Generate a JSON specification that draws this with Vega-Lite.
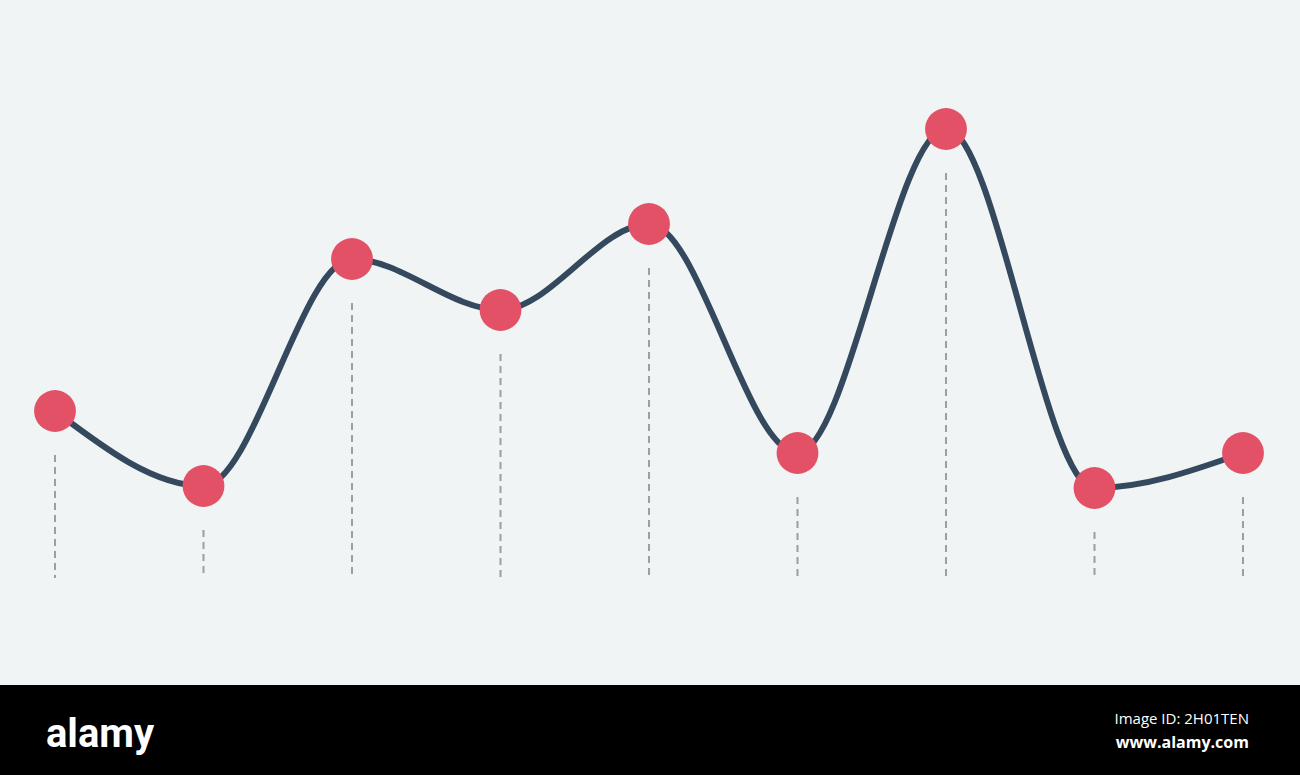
{
  "$schema": "https://vega.github.io/schema/vega-lite/v6.json",
  "width": 1300,
  "height": 775,
  "autosize": {"type": "fit", "contains": "padding"},
  "padding": 0,
  "background": "#f0f4f5",
  "config": {"view": {"stroke": null}},
  "datasets": {
    "series": [
      {"step": 0, "value": 33.4},
      {"step": 1, "value": 18.4},
      {"step": 2, "value": 63.8},
      {"step": 3, "value": 53.6},
      {"step": 4, "value": 70.8},
      {"step": 5, "value": 25},
      {"step": 6, "value": 89.8},
      {"step": 7, "value": 18},
      {"step": 8, "value": 25}
    ],
    "footer": [
      {"label": "alamy", "left": -0.3704, "right": 8.3838, "top": -21.4, "bottom": -39.4}
    ]
  },
  "layer": [
    {
      "data": {"name": "footer"},
      "mark": {"type": "rect", "color": "#000000"},
      "encoding": {
        "x": {"field": "left", "type": "quantitative", "scale": {"domain": [-0.3704, 8.3838], "nice": false, "zero": false}, "axis": null},
        "x2": {"field": "right"},
        "y": {"field": "top", "type": "quantitative", "scale": {"domain": [-39.4, 115.6], "nice": false, "zero": false}, "axis": null},
        "y2": {"field": "bottom"}
      }
    },
    {
      "data": {"name": "series"},
      "mark": {"type": "rule", "color": "#9c9fa2", "strokeWidth": 2, "strokeDash": [7, 5], "yOffset": 44},
      "encoding": {
        "x": {"field": "step", "type": "quantitative"},
        "y": {"field": "value", "type": "quantitative"},
        "y2": {"datum": 0}
      }
    },
    {
      "data": {"name": "series"},
      "mark": {"type": "line", "color": "#34495e", "strokeWidth": 6, "interpolate": "monotone"},
      "encoding": {
        "x": {"field": "step", "type": "quantitative"},
        "y": {"field": "value", "type": "quantitative"}
      }
    },
    {
      "data": {"name": "series"},
      "mark": {"type": "circle", "color": "#e35167", "opacity": 1, "size": 1750},
      "encoding": {
        "x": {"field": "step", "type": "quantitative"},
        "y": {"field": "value", "type": "quantitative"}
      }
    },
    {
      "data": {"name": "footer"},
      "mark": {"type": "text", "font": "Roboto", "fontWeight": "bold", "fontSize": 40, "letterSpacing": -3, "color": "#ffffff", "align": "center", "baseline": "alphabetic"},
      "encoding": {
        "text": {"field": "label"},
        "x": {"datum": 0.303},
        "y": {"datum": -33.8}
      }
    },
    {
      "data": {"name": "footer"},
      "mark": {"type": "text", "text": "Image ID: 2H01TEN", "font": "Open Sans", "fontSize": 15, "color": "#ffffff", "align": "right", "baseline": "alphabetic"},
      "encoding": {"x": {"datum": 8.04}, "y": {"datum": -29.2}}
    },
    {
      "data": {"name": "footer"},
      "mark": {"type": "text", "text": "www.alamy.com", "font": "Open Sans", "fontWeight": "bold", "fontSize": 16, "color": "#ffffff", "align": "right", "baseline": "alphabetic"},
      "encoding": {"x": {"datum": 8.04}, "y": {"datum": -34.0}}
    }
  ]
}
